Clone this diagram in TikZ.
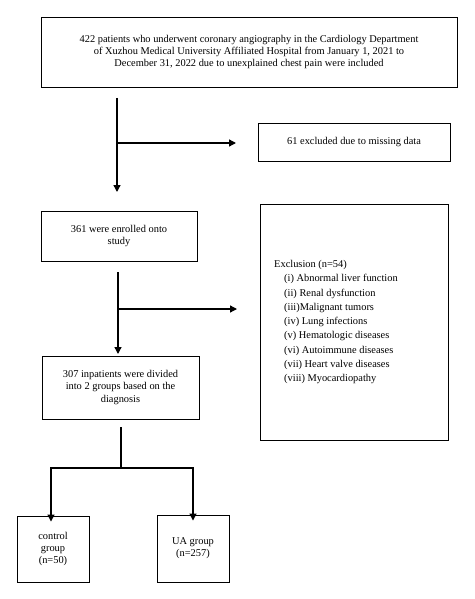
\documentclass[tikz,border=0pt]{standalone}
\usepackage{fontspec}
\setmainfont{Liberation Serif}
\usetikzlibrary{arrows.meta}
\begin{document}
\begin{tikzpicture}[x=1pt,y=-1pt,
  box/.style={draw,line width=0.9pt,align=center,inner sep=0pt,font=\fontsize{10.4}{12.2}\selectfont},
  flow/.style={line width=1.3pt,-{Triangle[length=7pt,width=7pt]}},
  plain/.style={line width=1.3pt}]
\useasboundingbox (0,0) rectangle (474,599);
\node[box,minimum width=416pt,minimum height=70pt] (top) at (249,52)
  {422 patients who underwent coronary angiography in the Cardiology Department\\
   of Xuzhou Medical University Affiliated Hospital from January 1, 2021 to\\
   December 31, 2022 due to unexplained chest pain were included};
\node[box,minimum width=192pt,minimum height=38pt] (miss) at (354,142)
  {61 excluded due to missing data};
\node[box,minimum width=156pt,minimum height=50pt] (enr) at (119,236)
  {361 were enrolled onto\\study};
\node[draw,line width=0.9pt,minimum width=188pt,minimum height=236pt,inner sep=0pt] (exc) at (354,322) {};
\node[anchor=north west,align=left,inner sep=0pt,font=\fontsize{10.4}{14.3}\selectfont] (exctext) at (274,260)
  {Exclusion (n=54)\\
   \hspace*{10pt}(i) Abnormal liver function\\
   \hspace*{10pt}(ii) Renal dysfunction\\
   \hspace*{10pt}(iii)Malignant tumors\\
   \hspace*{10pt}(iv) Lung infections\\
   \hspace*{10pt}(v) Hematologic diseases\\
   \hspace*{10pt}(vi) Autoimmune diseases\\
   \hspace*{10pt}(vii) Heart valve diseases\\
   \hspace*{10pt}(viii) Myocardiopathy};
\node[box,minimum width=157pt,minimum height=63pt] (div) at (120.5,387.5)
  {307 inpatients were divided\\into 2 groups based on the\\diagnosis};
\node[box,minimum width=72pt,minimum height=66pt] (ctrl) at (53,549)
  {control\\group\\(n=50)};
\node[box,minimum width=72pt,minimum height=67pt] (ua) at (193,548.5)
  {UA group\\(n=257)};
% connectors
\coordinate (a1) at (117,98);
\coordinate (a2) at (117,192);
\coordinate (a3) at (117,143);
\coordinate (a4) at (236,143);
\draw[flow] (a1) -- (a2);
\draw[flow] (a3) -- (a4);
\coordinate (b1) at (118,272);
\coordinate (b2) at (118,354);
\coordinate (b3) at (118,309);
\coordinate (b4) at (237,309);
\draw[flow] (b1) -- (b2);
\draw[flow] (b3) -- (b4);
\coordinate (c1) at (121,427);
\coordinate (c2) at (121,468);
\draw[plain] (c1) -- (c2);
\draw[flow] (c2) -| ([yshift=-6pt]ctrl.north -| 51,0);
\draw[flow] (c2) -| ([yshift=-6pt]ua.north);
\end{tikzpicture}
\end{document}
